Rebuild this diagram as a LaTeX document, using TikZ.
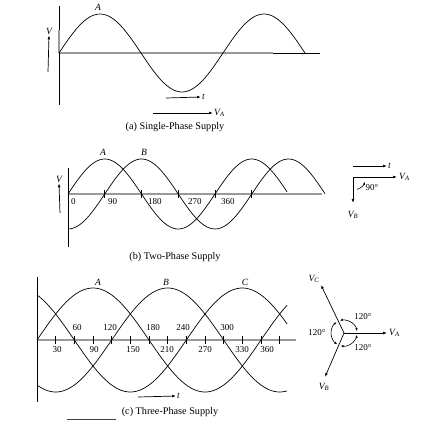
\documentclass[tikz,border=0pt]{standalone}
\usepackage{fontspec}
\setmainfont{Liberation Serif}
\usetikzlibrary{arrows.meta,positioning}

\tikzset{
  axisline/.style={draw=black,line width=0.7pt},
  greyaxis/.style={draw=black!40,line width=1.4pt},
  wave/.style={draw=black,line width=0.7pt},
  tickmark/.style={draw=black,line width=0.7pt},
  arrowline/.style={draw=black,line width=0.7pt,-{Latex[length=4pt,width=2.8pt]}},
  arcline/.style={draw=black,line width=0.6pt,-{Latex[length=3pt,width=2.4pt]}},
  twoarc/.style={draw=black,line width=0.6pt,{Latex[length=3pt,width=2.4pt]}-{Latex[length=3pt,width=2.4pt]}},
  lbl/.style={inner sep=1pt,font=\fontsize{9.5}{11}\selectfont\itshape},
  num/.style={inner sep=1pt,font=\fontsize{9}{10}\selectfont},
  captext/.style={inner sep=1pt,font=\fontsize{10.2}{12}\selectfont},
}

\begin{document}
\begin{tikzpicture}[x=1pt,y=-1pt]
\useasboundingbox (0,0) rectangle (434,421);

%% (a) single phase
\draw[greyaxis] (59,53) -- (273,53);
\draw[axisline] (273,53) -- (320,53);
\draw[axisline] (59,6) -- (59,105);
\draw[greyaxis] (59,30) -- (59,53);
\draw[wave] plot[domain=0:246,samples=90] ({59+\x},{53-39*sin(\x/164*360)});
\node[lbl] (Aa) at (98,7) {A};
\node[lbl] (Va) at (49,31) {V};
\coordinate (Vatail) at (48,72);
\draw[arrowline] (Vatail) -- (Va.south);
\coordinate (tatail) at (166,98);
\node[lbl,anchor=west] (ta) at (201,97) {t};
\draw[arrowline] (tatail) -- (ta.west);
\coordinate (VAatail) at (153,113);
\node[lbl,anchor=west] (VAa) at (213,113) {V\textsubscript{A}};
\draw[arrowline] (VAatail) -- (VAa.west);
\node[captext] (capa) at (175,127) {(a) Single-Phase Supply};

%% (b) two phase
\draw[greyaxis] (68,194) -- (322,194);
\draw[axisline] (68,168) -- (68,247);
\draw[wave] plot[domain=0:219,samples=90] ({68+\x},{194-35*sin(\x/147*360)});
\draw[wave] plot[domain=0:257,samples=90] ({68+\x},{194+35*cos(\x/147*360)});
\foreach \k in {0,...,5}
  \draw[tickmark] ({68+36.75*\k},190) -- ({68+36.75*\k},198);
\foreach \d/\px in {0/70,90/107,180/147,270/187,360/220}
  \node[num,anchor=north west] (b\d) at (\px,197) {\d};
\node[lbl] (Ab) at (103,152) {A};
\node[lbl] (Bb) at (144,152) {B};
\node[lbl] (Vb) at (59,179) {V};
\coordinate (Vbtail) at (60,213);
\draw[arrowline] (Vbtail) -- (Vb.south);
\node[captext] (capb) at (175,257) {(b) Two-Phase Supply};

% phasors of (b)
\begin{scope}[shift={(353,177)},y=1pt]
  \coordinate (O2) at (0,0);
  \coordinate (VA2tip) at (44,0);
  \coordinate (VB2tip) at (0,-26);
  \node[lbl,anchor=west] (VA2) at (45,0) {V\textsubscript{A}};
  \node[lbl] (VB2) at (0,-38) {V\textsubscript{B}};
  \draw[arrowline] (O2) -- (VA2tip);
  \draw[arrowline] (O2) -- (VB2tip);
  \draw[arcline] (-72:13) arc[start angle=-72,end angle=-22,radius=13];
  \node[num] (deg90) at (19,-11) {90°};
  \coordinate (t2tail) at (0,11);
  \node[lbl,anchor=west] (t2) at (34,11) {t};
  \draw[arrowline] (t2tail) -- (t2.west);
\end{scope}

%% (c) three phase
\draw[greyaxis] (37,340) -- (296,340);
\draw[axisline] (37,277) -- (37,402);
\foreach \ph in {0,120,240}
  \draw[wave] plot[domain=0:402,samples=120] ({37+\x/360*224},{340-52*sin(\x-\ph)});
\foreach \k in {1,...,13}
  \draw[tickmark] ({37+\k*224/12},336) -- ({37+\k*224/12},344);
\foreach \d/\px in {60/77,120/110,180/153,240/183,300/227}
  \node[num] (cu\d) at (\px,328) {\d};
\foreach \d/\px in {30/57,90/94,150/133,210/167,270/205,330/242,360/267}
  \node[num] (cl\d) at (\px,350) {\d};
\node[lbl] (Ac) at (98,282) {A};
\node[lbl] (Bc) at (166,282) {B};
\node[lbl] (Cc) at (245,282) {C};
\coordinate (tctail) at (138,397);
\node[lbl,anchor=west] (tc) at (176,396) {t};
\draw[arrowline] (tctail) -- (tc.west);
\node[captext] (capc) at (170,412) {(c) Three-Phase Supply};
\draw[draw=black!75,line width=1.6pt] (67,419.6) -- (116,419.6);

% phasors of (c)
\begin{scope}[shift={(344,333)},y=1pt]
  \coordinate (O3) at (0,0);
  \coordinate (VA3tip) at (43,0);
  \coordinate (VC3tip) at (-23,48);
  \coordinate (VB3tip) at (-19,-44);
  \node[lbl,anchor=west] (VA3) at (44,0) {V\textsubscript{A}};
  \node[lbl] (VC3) at (-30,54) {V\textsubscript{C}};
  \node[lbl] (VB3) at (-20,-54) {V\textsubscript{B}};
  \draw[arrowline] (O3) -- (VA3tip);
  \draw[arrowline] (O3) -- (VC3tip);
  \draw[arrowline] (O3) -- (VB3tip);
  \draw[twoarc] (8:13) arc[start angle=8,end angle=108,radius=13];
  \draw[twoarc] (124:13) arc[start angle=124,end angle=239,radius=13];
  \draw[twoarc] (255:13) arc[start angle=255,end angle=352,radius=13];
  \node[num] (deg1) at (19,16) {120°};
  \node[num] (deg2) at (-27,0) {120°};
  \node[num] (deg3) at (19,-15) {120°};
\end{scope}

\end{tikzpicture}
\end{document}
